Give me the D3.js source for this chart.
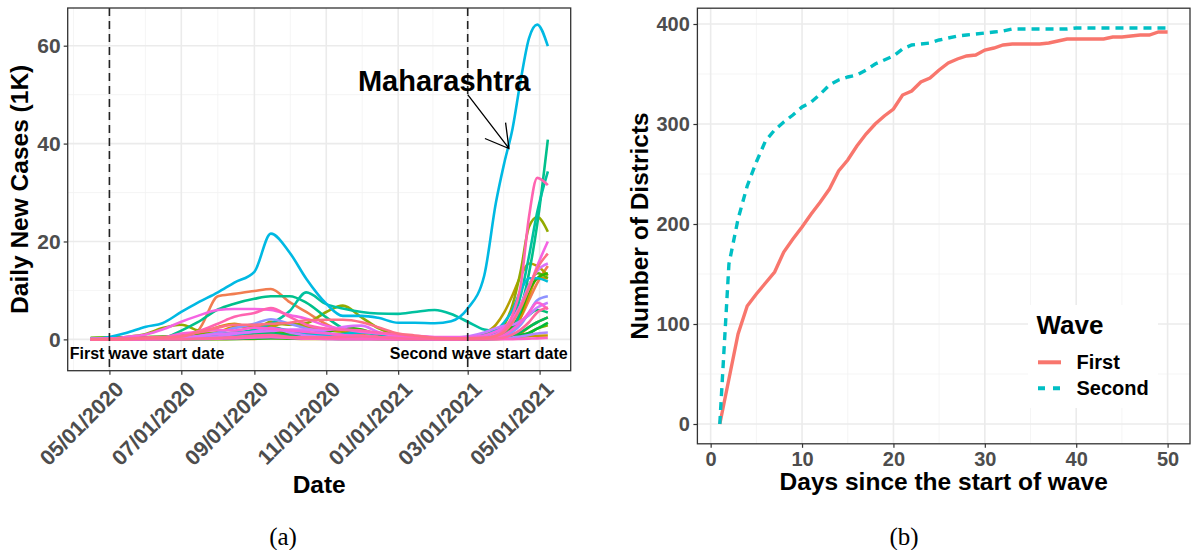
<!DOCTYPE html>
<html>
<head>
<meta charset="utf-8">
<script src="https://cdn.jsdelivr.net/npm/d3@7"></script>
<style>
  body { margin: 0; background: #fff; }
  svg text { font-family: "Liberation Sans", Arial, sans-serif; font-weight: bold; }
  .tick text { fill: #4d4d4d; }
  .caption { font-family: "Liberation Serif", "Times New Roman", serif !important; font-weight: normal !important; }
</style>
</head>
<body>
<svg id="chart" width="1200" height="550"></svg>
<script>
// ---------- panel (a): daily new cases per state, knots (thousands)
var knotDates = ["2020-04-15","2020-05-01","2020-05-15","2020-06-01","2020-06-15","2020-07-01","2020-07-15",
  "2020-08-01","2020-08-15","2020-09-01","2020-09-15","2020-10-01","2020-10-15","2020-11-01","2020-11-15",
  "2020-12-01","2020-12-15","2021-01-01","2021-01-15","2021-02-01","2021-02-15","2021-03-01","2021-03-15",
  "2021-03-25","2021-04-01","2021-04-08","2021-04-15","2021-04-22","2021-04-29","2021-05-08"];

var andhraPradesh = [0.05,0.06,0.07,0.1,0.3,0.8,1.8,8.8,9.3,9.9,10.3,7.6,5.6,3.1,1.6,0.9,0.6,0.35,0.25,0.1,0.1,0.12,0.3,0.6,1.2,2.5,4.5,8,11.5,15];
var assam = [0,0.01,0.03,0.15,0.4,0.8,1.1,1.5,2.5,2.6,2.6,1.4,0.9,0.4,0.2,0.15,0.1,0.05,0.04,0.02,0.02,0.02,0.03,0.05,0.15,0.4,1.2,2.5,3.5,4.5];
var bihar = [0,0.02,0.1,0.15,0.2,0.3,1.2,2.5,3.2,2.0,1.6,1.3,1.2,0.8,0.6,0.6,0.5,0.4,0.3,0.05,0.05,0.04,0.05,0.15,0.5,1.8,4.5,9,12.5,12.5];
var chandigarh = [0,0.01,0.01,0.01,0.01,0.01,0.02,0.05,0.07,0.1,0.25,0.15,0.08,0.07,0.08,0.1,0.05,0.03,0.02,0.03,0.04,0.05,0.15,0.25,0.35,0.45,0.55,0.65,0.75,0.8];
var chhattisgarh = [0,0,0,0.02,0.05,0.1,0.15,0.3,0.7,1.6,2.8,3.2,2.6,1.9,1.6,1.5,1.3,0.9,0.6,0.3,0.25,0.3,1.2,3.0,5.5,9,13,15.5,15,13];
var delhi = [0.1,0.3,0.5,1.1,2.3,3.0,1.8,1.1,1.1,1.7,3.6,3.0,3.3,5.6,6.9,4.5,2.3,0.8,0.3,0.15,0.15,0.2,0.4,1.3,3.0,7,14,23,25,22];
var goa = [0,0,0,0.02,0.03,0.07,0.15,0.2,0.3,0.4,0.5,0.4,0.25,0.2,0.1,0.1,0.08,0.07,0.05,0.05,0.05,0.05,0.1,0.15,0.3,0.5,0.8,1.3,2.2,2.9];
var gujarat = [0.3,0.4,0.35,0.45,0.5,0.6,0.9,1.1,1.1,1.3,1.4,1.3,1.1,1.0,1.2,1.5,1.1,0.7,0.5,0.3,0.3,0.5,0.9,1.8,2.6,4,7,11,13.5,12.5];
var haryana = [0,0.05,0.1,0.4,0.6,0.5,0.7,0.8,1.0,1.4,2.2,1.4,1.1,1.4,2.4,2.0,1.0,0.3,0.15,0.1,0.12,0.2,0.5,0.9,1.6,2.8,5.5,10,12.5,13.5];
var himachal = [0,0,0,0.01,0.02,0.02,0.03,0.07,0.1,0.2,0.25,0.2,0.2,0.5,0.7,0.65,0.4,0.2,0.08,0.05,0.04,0.05,0.1,0.2,0.4,0.6,0.9,1.3,2.2,3.4];
var jammuKashmir = [0,0.03,0.1,0.15,0.2,0.3,0.5,0.5,0.6,1.0,1.3,0.8,0.6,0.5,0.5,0.4,0.3,0.15,0.1,0.06,0.05,0.06,0.1,0.25,0.5,1.0,1.5,2.5,3.5,4.5];
var jharkhand = [0,0,0.01,0.05,0.1,0.1,0.3,0.7,0.9,1.1,1.1,0.7,0.5,0.3,0.2,0.18,0.15,0.1,0.06,0.04,0.04,0.05,0.1,0.3,0.8,2,3.5,5,6,5.5];
var karnataka = [0,0.01,0.05,0.15,0.3,1.8,3.5,6.1,7.3,8.3,8.8,8.8,7.5,4.5,2.3,1.4,1.1,0.8,0.6,0.4,0.4,0.5,0.8,1.0,1.2,2.0,6.2,13.5,23.5,40.8];
var kerala = [0,0.01,0.01,0.06,0.1,0.15,0.5,1.1,1.4,1.9,3.2,5.8,9.6,7.2,6.3,5.6,5.3,5.2,5.6,6.0,5.2,3.6,2.0,1.7,2.2,4.0,9,17,26,34.3];
var madhyaPradesh = [0.15,0.2,0.2,0.2,0.15,0.2,0.5,0.7,0.9,1.6,2.3,1.8,1.0,0.9,1.1,1.4,1.1,0.6,0.3,0.2,0.25,0.4,0.8,1.8,3.5,6,10,12.5,12.5,11.8];
var maharashtra = [0,0.5,1.3,2.6,3.3,5.6,7.5,9.6,11.6,13.8,21.6,17.7,12.4,7.3,4.8,4.8,4.4,3.4,3.4,3.3,3.7,6.3,13,28,36,43,53,61.5,64.3,59.9];
var odisha = [0,0.02,0.05,0.1,0.15,0.3,0.6,1.4,2.3,3.2,4.1,3.2,2.2,1.3,0.9,0.5,0.35,0.2,0.15,0.1,0.08,0.08,0.12,0.3,0.6,1.5,3,5.5,8,8.8];
var puducherry = [0,0,0,0.01,0.02,0.06,0.1,0.2,0.35,0.45,0.5,0.35,0.2,0.1,0.05,0.04,0.03,0.03,0.03,0.02,0.02,0.02,0.04,0.1,0.2,0.4,0.6,0.9,1.2,1.4];
var punjab = [0.05,0.2,0.05,0.05,0.1,0.15,0.3,0.6,1.1,1.6,2.3,1.4,0.8,0.5,0.6,0.6,0.4,0.25,0.2,0.25,0.3,0.6,1.4,2.3,2.8,3,3.8,5,6.5,7.5];
var rajasthan = [0.1,0.1,0.1,0.25,0.35,0.4,0.7,1.1,1.3,1.5,1.7,2.0,2.0,1.9,2.5,2.8,1.5,0.6,0.3,0.1,0.1,0.2,0.4,1.0,2.0,3.5,7,11,14,15.5];
var tamilNadu = [0.05,0.1,0.5,1.0,2.0,3.6,4.8,6.0,6.2,6.2,6.0,5.0,4.2,2.8,2.1,1.5,1.2,0.9,0.7,0.5,0.45,0.5,0.8,1.6,2.5,4.2,7,10.5,15,20];
var telangana = [0,0.03,0.05,0.1,0.3,1.2,1.5,1.9,1.8,2.4,2.2,1.8,1.5,1.2,0.9,0.7,0.5,0.35,0.25,0.15,0.15,0.17,0.25,0.4,0.9,2,3.5,5.5,7.5,6.1];
var tripura = [0,0.01,0.01,0.02,0.03,0.04,0.08,0.15,0.2,0.4,0.5,0.3,0.15,0.1,0.05,0.03,0.02,0.01,0.01,0.01,0.01,0.01,0.01,0.02,0.03,0.05,0.1,0.15,0.2,0.3];
var uttarPradesh = [0.05,0.1,0.25,0.35,0.5,0.7,1.6,3.2,4.6,5.4,6.4,4.6,3.0,2.2,2.0,1.8,1.4,1.0,0.6,0.2,0.1,0.12,0.3,0.8,2.0,5,11,25,33,31.5];
var uttarakhand = [0,0,0.01,0.05,0.05,0.06,0.15,0.3,0.5,0.8,0.9,0.5,0.4,0.4,0.5,0.6,0.5,0.25,0.1,0.06,0.05,0.06,0.1,0.2,0.4,1.0,2,3.5,5.5,6.5];
var westBengal = [0.01,0.05,0.1,0.3,0.4,0.6,1.4,2.4,3.0,3.0,3.2,3.4,3.9,4.0,4.0,3.5,2.5,1.2,0.8,0.3,0.2,0.2,0.3,0.7,1.5,3.5,6.5,10.5,14.5,17.5];

// colour order (ggplot default hue over all states/UTs, alphabetical)
var allStates = ["Andaman and Nicobar Islands","Andhra Pradesh","Arunachal Pradesh","Assam","Bihar","Chandigarh",
  "Chhattisgarh","Dadra and Nagar Haveli and Daman and Diu","Delhi","Goa","Gujarat","Haryana","Himachal Pradesh",
  "Jammu and Kashmir","Jharkhand","Karnataka","Kerala","Ladakh","Lakshadweep","Madhya Pradesh","Maharashtra",
  "Manipur","Meghalaya","Mizoram","Nagaland","Odisha","Puducherry","Punjab","Rajasthan","Sikkim","Tamil Nadu",
  "Telangana","Tripura","Uttar Pradesh","Uttarakhand","West Bengal"];

var xTickDates = ["2020-05-01","2020-07-01","2020-09-01","2020-11-01","2021-01-01","2021-03-01","2021-05-01"];
var yTicksA = [0, 20, 40, 60];
var waveStarts = ["2020-05-01", "2021-03-01"];

// ---------- panel (b): cumulative districts reached
var firstWave = [0,45,90,118,130,141,152,172,185,197,210,222,235,253,264,278,290,300,308,315,329,333,342,346,354,
  361,365,368,369,374,376,379,380,380,380,380,381,383,385,385,385,385,385,387,387,388,389,389,392,392];
var secondWave = [0,160,205,238,262,283,294,302,309,317,322,330,339,344,347,349,354,360,364,368,375,379,380,381,384,
  386,388,389,390,391,392,393,395,395,395,395,395,395,395,396,396,396,396,396,396,396,396,396,396,396];
var waveNames = ["First", "Second"];
var xTicksB = [0, 10, 20, 30, 40, 50];
var yTicksB = [0, 100, 200, 300, 400];

// ggplot-style hcl(h, c=100, l=65) -> hex
function ggHue(h) {
  var L = 65, C = 100, rad = h * Math.PI / 180;
  var U = C * Math.cos(rad), V = C * Math.sin(rad);
  var Y = Math.pow((L + 16) / 116, 3);
  var up = U / (13 * L) + 0.1978398, vp = V / (13 * L) + 0.4683363;
  var X = Y * 9 * up / (4 * vp), Z = Y * (12 - 3 * up - 20 * vp) / (4 * vp);
  var lin = [3.2404542 * X - 1.5371385 * Y - 0.4985314 * Z,
             -0.9692660 * X + 1.8760108 * Y + 0.0415560 * Z,
             0.0556434 * X - 0.2040259 * Y + 1.0572252 * Z];
  var c = lin.map(function(v) {
    v = v <= 0.0031308 ? 12.92 * v : 1.055 * Math.pow(v, 1 / 2.4) - 0.055;
    return Math.max(0, Math.min(255, Math.round(v * 255)));
  });
  return d3.rgb(c[0], c[1], c[2]).formatHex();
}

var parseDate = d3.timeParse("%Y-%m-%d");
var svg = d3.select("#chart");
svg.append("rect").attr("width", 1200).attr("height", 550).attr("fill", "#fff");

var color = d3.scaleOrdinal()
  .domain(allStates)
  .range(allStates.map(function(d, i) { return ggHue(15 + i * 360 / allStates.length); }));

var series = [
  ["Andhra Pradesh", andhraPradesh], ["Assam", assam], ["Bihar", bihar], ["Chandigarh", chandigarh],
  ["Chhattisgarh", chhattisgarh], ["Delhi", delhi], ["Goa", goa], ["Gujarat", gujarat], ["Haryana", haryana],
  ["Himachal Pradesh", himachal], ["Jammu and Kashmir", jammuKashmir], ["Jharkhand", jharkhand],
  ["Karnataka", karnataka], ["Kerala", kerala], ["Madhya Pradesh", madhyaPradesh], ["Maharashtra", maharashtra],
  ["Odisha", odisha], ["Puducherry", puducherry], ["Punjab", punjab], ["Rajasthan", rajasthan],
  ["Tamil Nadu", tamilNadu], ["Telangana", telangana], ["Tripura", tripura], ["Uttar Pradesh", uttarPradesh],
  ["Uttarakhand", uttarakhand], ["West Bengal", westBengal]
].map(function(s) {
  return { name: s[0], values: s[1].map(function(v, i) { return { date: parseDate(knotDates[i]), v: v }; }) };
});

// =============== panel (a)
var pa = { left: 67.7, right: 570.7, top: 8, bottom: 370.7 };
var dExt = d3.extent(knotDates.map(parseDate));
var dPad = (dExt[1] - dExt[0]) * 0.05;
var x = d3.scaleTime()
  .domain([new Date(+dExt[0] - dPad), new Date(+dExt[1] + dPad)])
  .range([pa.left, pa.right]);
var y = d3.scaleLinear().domain([-6.4, 67.7]).range([pa.bottom, pa.top]);

var xMajor = xTickDates.map(parseDate);
var xMinor = [];
xMajor.forEach(function(d, i) {
  if (i > 0) xMinor.push(new Date((+xMajor[i - 1] + +d) / 2));
});
xMinor.push(new Date(+xMajor[0] - (xMajor[1] - xMajor[0]) / 2));
xMinor.push(new Date(+xMajor[xMajor.length - 1] + (xMajor[xMajor.length - 1] - xMajor[xMajor.length - 2]) / 2));
xMinor = xMinor.filter(function(d) { return d >= x.domain()[0] && d <= x.domain()[1]; });
var yMinorA = [-10, 10, 30, 50, 70].filter(function(v) { return v >= y.domain()[0] && v <= y.domain()[1]; });

var gA = svg.append("g");
gA.append("rect").attr("x", pa.left).attr("y", pa.top)
  .attr("width", pa.right - pa.left).attr("height", pa.bottom - pa.top).attr("fill", "#fff");

gA.selectAll(".xminor").data(xMinor).enter().append("line")
  .attr("x1", x).attr("x2", x).attr("y1", pa.top).attr("y2", pa.bottom)
  .attr("stroke", "#f2f2f2").attr("stroke-width", 0.8);
gA.selectAll(".yminor").data(yMinorA).enter().append("line")
  .attr("x1", pa.left).attr("x2", pa.right).attr("y1", y).attr("y2", y)
  .attr("stroke", "#f2f2f2").attr("stroke-width", 0.8);
gA.selectAll(".xmajor").data(xMajor).enter().append("line")
  .attr("x1", x).attr("x2", x).attr("y1", pa.top).attr("y2", pa.bottom)
  .attr("stroke", "#ebebeb").attr("stroke-width", 1.6);
gA.selectAll(".ymajor").data(yTicksA).enter().append("line")
  .attr("x1", pa.left).attr("x2", pa.right).attr("y1", y).attr("y2", y)
  .attr("stroke", "#ebebeb").attr("stroke-width", 1.6);

svg.append("clipPath").attr("id", "clipA").append("rect")
  .attr("x", pa.left).attr("y", pa.top).attr("width", pa.right - pa.left).attr("height", pa.bottom - pa.top);

var lineA = d3.line()
  .x(function(d) { return x(d.date); })
  .y(function(d) { return y(d.v); })
  .curve(d3.curveMonotoneX);

gA.append("g").attr("clip-path", "url(#clipA)")
  .selectAll("path").data(series).enter().append("path")
  .attr("d", function(d) { return lineA(d.values); })
  .attr("fill", "none")
  .attr("stroke", function(d) { return color(d.name); })
  .attr("stroke-width", 2.6)
  .attr("stroke-linejoin", "round");

// wave start markers
gA.selectAll(".wave").data(waveStarts).enter().append("line")
  .attr("x1", function(d) { return x(parseDate(d)); })
  .attr("x2", function(d) { return x(parseDate(d)); })
  .attr("y1", pa.top).attr("y2", pa.bottom)
  .attr("stroke", "#222").attr("stroke-width", 1.6).attr("stroke-dasharray", "8,5");

gA.append("text").attr("x", pa.left + 2).attr("y", y(-4))
  .attr("font-size", 16).attr("fill", "#000").text("First wave start date");
gA.append("text").attr("x", pa.right - 3).attr("y", y(-4))
  .attr("text-anchor", "end").attr("font-size", 16).attr("fill", "#000").text("Second wave start date");

// Maharashtra annotation
gA.append("text").attr("x", x(parseDate("2021-02-09"))).attr("y", y(50.8))
  .attr("text-anchor", "middle").attr("font-size", 29).attr("fill", "#000").text("Maharashtra");
var aFrom = [x(parseDate("2021-03-01")), y(50)], aTo = [x(parseDate("2021-04-05")), y(39)];
var ang = Math.atan2(aFrom[1] - aTo[1], aFrom[0] - aTo[0]);
var barb = 26, spread = Math.PI / 6;
gA.append("path")
  .attr("d", "M" + aFrom + "L" + aTo +
    "M" + [aTo[0] + barb * Math.cos(ang + spread), aTo[1] + barb * Math.sin(ang + spread)] + "L" + aTo +
    "L" + [aTo[0] + barb * Math.cos(ang - spread), aTo[1] + barb * Math.sin(ang - spread)])
  .attr("fill", "none").attr("stroke", "#000").attr("stroke-width", 1.3);

// axes
gA.append("g").attr("transform", "translate(0," + pa.bottom + ")")
  .call(d3.axisBottom(x).tickValues(xMajor).tickFormat(d3.timeFormat("%m/%d/%Y")).tickSize(4))
  .call(function(g) {
    g.select(".domain").remove();
    g.attr("color", "#333");
    g.selectAll("line").attr("stroke-width", 1.2);
    g.selectAll("text").attr("font-size", 21.5).attr("y", 0).attr("dy", "0.72em")
      .attr("transform", "translate(4,9) rotate(-45)").style("text-anchor", "end");
  });
gA.append("g").attr("transform", "translate(" + pa.left + ",0)")
  .call(d3.axisLeft(y).tickValues(yTicksA).tickSize(4).tickPadding(3))
  .call(function(g) {
    g.select(".domain").remove();
    g.attr("color", "#333");
    g.selectAll("line").attr("stroke-width", 1.2);
    g.selectAll("text").attr("font-size", 21);
  });

gA.append("rect").attr("x", pa.left).attr("y", pa.top)
  .attr("width", pa.right - pa.left).attr("height", pa.bottom - pa.top)
  .attr("fill", "none").attr("stroke", "#333").attr("stroke-width", 1.3);

gA.append("text").attr("x", (pa.left + pa.right) / 2).attr("y", 493)
  .attr("text-anchor", "middle").attr("font-size", 24.5).attr("fill", "#000").text("Date");
gA.append("text").attr("transform", "translate(28," + ((pa.top + pa.bottom) / 2) + ") rotate(-90)")
  .attr("text-anchor", "middle").attr("font-size", 24.5).attr("fill", "#000").text("Daily New Cases (1K)");
svg.append("text").attr("class", "caption").attr("x", 283).attr("y", 545)
  .attr("text-anchor", "middle").attr("font-size", 25).attr("fill", "#000").text("(a)");

// =============== panel (b)
var pb = { left: 697.4, right: 1190, top: 8.2, bottom: 443.8 };
var waveDays = d3.range(1, firstWave.length + 1);
var dayExt = d3.extent(waveDays), dayPad = (dayExt[1] - dayExt[0]) * 0.05;
var xb = d3.scaleLinear().domain([dayExt[0] - dayPad, dayExt[1] + dayPad]).range([pb.left, pb.right]);
var vMax = d3.max(firstWave.concat(secondWave)), vPad = vMax * 0.05;
var yb = d3.scaleLinear().domain([0 - vPad, vMax + vPad]).range([pb.bottom, pb.top]);

var gB = svg.append("g");
gB.append("rect").attr("x", pb.left).attr("y", pb.top)
  .attr("width", pb.right - pb.left).attr("height", pb.bottom - pb.top).attr("fill", "#fff");
var xMinorB = [-5, 5, 15, 25, 35, 45, 55].filter(function(v) { return v >= xb.domain()[0] && v <= xb.domain()[1]; });
var yMinorB = [-50, 50, 150, 250, 350, 450].filter(function(v) { return v >= yb.domain()[0] && v <= yb.domain()[1]; });
gB.selectAll(".xminor").data(xMinorB).enter().append("line")
  .attr("x1", xb).attr("x2", xb).attr("y1", pb.top).attr("y2", pb.bottom)
  .attr("stroke", "#f2f2f2").attr("stroke-width", 0.8);
gB.selectAll(".yminor").data(yMinorB).enter().append("line")
  .attr("x1", pb.left).attr("x2", pb.right).attr("y1", yb).attr("y2", yb)
  .attr("stroke", "#f2f2f2").attr("stroke-width", 0.8);
gB.selectAll(".xmajor").data(xTicksB).enter().append("line")
  .attr("x1", xb).attr("x2", xb).attr("y1", pb.top).attr("y2", pb.bottom)
  .attr("stroke", "#ebebeb").attr("stroke-width", 1.6);
gB.selectAll(".ymajor").data(yTicksB).enter().append("line")
  .attr("x1", pb.left).attr("x2", pb.right).attr("y1", yb).attr("y2", yb)
  .attr("stroke", "#ebebeb").attr("stroke-width", 1.6);

var waveColor = d3.scaleOrdinal().domain(waveNames).range(["#F8766D", "#00BFC4"]);
var waveDash = d3.scaleOrdinal().domain(waveNames).range(["none", "8,6"]);
var waves = [
  { name: "First", values: firstWave },
  { name: "Second", values: secondWave }
];
var lineB = d3.line()
  .x(function(d, i) { return xb(waveDays[i]); })
  .y(function(d) { return yb(d); });

gB.selectAll(".wave").data(waves).enter().append("path")
  .attr("d", function(d) { return lineB(d.values); })
  .attr("fill", "none")
  .attr("stroke", function(d) { return waveColor(d.name); })
  .attr("stroke-dasharray", function(d) { return waveDash(d.name); })
  .attr("stroke-width", 3.4);

gB.append("g").attr("transform", "translate(0," + pb.bottom + ")")
  .call(d3.axisBottom(xb).tickValues(xTicksB).tickSize(4).tickPadding(4))
  .call(function(g) {
    g.select(".domain").remove();
    g.attr("color", "#333");
    g.selectAll("line").attr("stroke-width", 1.2);
    g.selectAll("text").attr("font-size", 20);
  });
gB.append("g").attr("transform", "translate(" + pb.left + ",0)")
  .call(d3.axisLeft(yb).tickValues(yTicksB).tickSize(4).tickPadding(3.6))
  .call(function(g) {
    g.select(".domain").remove();
    g.attr("color", "#333");
    g.selectAll("line").attr("stroke-width", 1.2);
    g.selectAll("text").attr("font-size", 20);
  });

// legend
var lg = gB.append("g");
lg.append("rect").attr("x", 1028).attr("y", 305).attr("width", 130).attr("height", 103).attr("fill", "#fff");
lg.append("text").attr("x", 1036.5).attr("y", 333.5).attr("font-size", 26).attr("fill", "#000").text("Wave");
var item = lg.selectAll(".item").data(waveNames).enter().append("g")
  .attr("transform", function(d, i) { return "translate(0," + (362.3 + i * 26) + ")"; });
item.append("line").attr("x1", 1038).attr("x2", 1061).attr("y1", 0).attr("y2", 0)
  .attr("stroke", function(d) { return waveColor(d); })
  .attr("stroke-dasharray", function(d) { return d === "Second" ? "7,8" : "none"; })
  .attr("stroke-width", 4);
item.append("text").attr("x", 1076.5).attr("y", 7).attr("font-size", 20).attr("fill", "#000")
  .text(function(d) { return d; });

gB.append("rect").attr("x", pb.left).attr("y", pb.top)
  .attr("width", pb.right - pb.left).attr("height", pb.bottom - pb.top)
  .attr("fill", "none").attr("stroke", "#333").attr("stroke-width", 1.3);

gB.append("text").attr("x", (pb.left + pb.right) / 2).attr("y", 490)
  .attr("text-anchor", "middle").attr("font-size", 24.5).attr("fill", "#000").text("Days since the start of wave");
gB.append("text").attr("transform", "translate(648," + ((pb.top + pb.bottom) / 2) + ") rotate(-90)")
  .attr("text-anchor", "middle").attr("font-size", 24.5).attr("fill", "#000").text("Number of Districts");
svg.append("text").attr("class", "caption").attr("x", 904).attr("y", 545)
  .attr("text-anchor", "middle").attr("font-size", 25).attr("fill", "#000").text("(b)");
</script>
</body>
</html>
